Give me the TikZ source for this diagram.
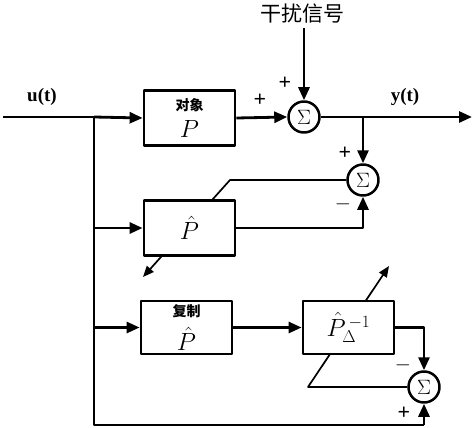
\documentclass[tikz,border=0pt]{standalone}
\usepackage{fontspec}
\setmainfont{Liberation Serif}
\newfontfamily\cjk{Noto Sans CJK SC}
\usetikzlibrary{arrows.meta}

\newcommand{\tagtext}[1]{{\cjk\bfseries\fontsize{14}{14}\selectfont #1}}
\newcommand{\symtext}[1]{{\fontsize{23}{23}\selectfont #1}}

\tikzset{
  blk/.style={draw, line width=2.8pt, fill=white, minimum width=91pt, minimum height=55pt, inner sep=0pt, align=center, font=\fontsize{14}{16}\selectfont},
  sumnode/.style={draw, circle, line width=2.5pt, fill=white, minimum size=31pt, inner sep=0pt, font=\fontsize{20}{20}\selectfont},
  sig/.style={line width=2.8pt, -{Triangle[length=13pt,width=11pt]}},
  wire/.style={line width=2.8pt},
  adapt/.style={line width=1.7pt, -{Triangle[length=11pt,width=9pt]}},
  sgn/.style={font=\bfseries\fontsize{22}{22}\selectfont},
  lbl/.style={font=\bfseries\fontsize{19}{19}\selectfont}
}

\begin{document}
\begin{tikzpicture}[x=1pt, y=-1pt, line join=round]
    \useasboundingbox (0,0) rectangle (474,428);

    % summing points
    \node[sumnode] (sum1) at (304,117) {$\Sigma$};
    \node[sumnode] (sum2) at (363,180) {$\Sigma$};
    \node[sumnode] (sum3) at (424,387) {$\Sigma$};

    % free ends and corners
    \coordinate (uin) at (3,117);
    \coordinate (yout) at (472,117);
    \coordinate (ubr) at (94,117);
    \coordinate (ubot) at (94,425);
    \coordinate (ucorner) at (424,425);
    \coordinate (ybr) at (363,117);
    \coordinate (dist) at (304,28);
    \coordinate (kneeA) at (230,180);
    \coordinate (tipA) at (143,277);
    \coordinate (kneeB) at (308,387);
    \coordinate (tipB) at (389,266);

    % adaptation arrows (boxes go on top)
    \draw[adapt] (sum2.west) -- (kneeA) -- (tipA);
    \draw[adapt] (sum3.west) -- (kneeB) -- (tipB);

    % blocks
    \node[blk] (plant) at (189.5,118) {\tagtext{对象}\\[8pt]\symtext{$P$}};
    \node[blk] (model) at (189.5,228) {\symtext{$\hat{P}$}};
    \node[blk, minimum height=53pt] (copy) at (186.5,327.5) {\tagtext{复制}\\[8pt]\symtext{$\hat{P}$}};
    \node[blk, minimum height=53pt] (inv) at (348.5,327.5) {\symtext{$\hat{P}_{\Delta}^{\,-1}$}};

    % signal lines
    \draw[wire] (uin) -- (ubr);
    \draw[sig] (ubr) -- (plant.west);
    \draw[sig] (plant.east) -- (sum1.west);
    \draw[sig] (dist) -- (sum1.north);
    \draw[sig] (sum1.east) -- (yout);
    \draw[sig] (ybr) -- (sum2.north);
    \draw[wire] (ubr) -- (ubot) -- (ucorner);
    \draw[sig] (ucorner) -- (sum3.south);
    \draw[sig] (ubr |- model.west) -- (model.west);
    \draw[sig] (model.east) -| (sum2.south);
    \draw[sig] (ubr |- copy.west) -- (copy.west);
    \draw[sig] (copy.east) -- (inv.west);
    \draw[sig] (inv.east) -| (sum3.north);

    % texts
    \node[lbl] at (42,97) {u(t)};
    \node[lbl] at (405,97) {y(t)};
    \node[font=\cjk\fontsize{21}{21}\selectfont] at (302,14) {干扰信号};

    % signs
    \node[sgn] at (260,100) {+};
    \node[sgn] at (285,83) {+};
    \node[sgn] at (345,153) {+};
    \node[sgn] at (343,204) {$-$};
    \node[sgn] at (403,365) {$-$};
    \node[sgn] at (404,413) {+};
\end{tikzpicture}
\end{document}
